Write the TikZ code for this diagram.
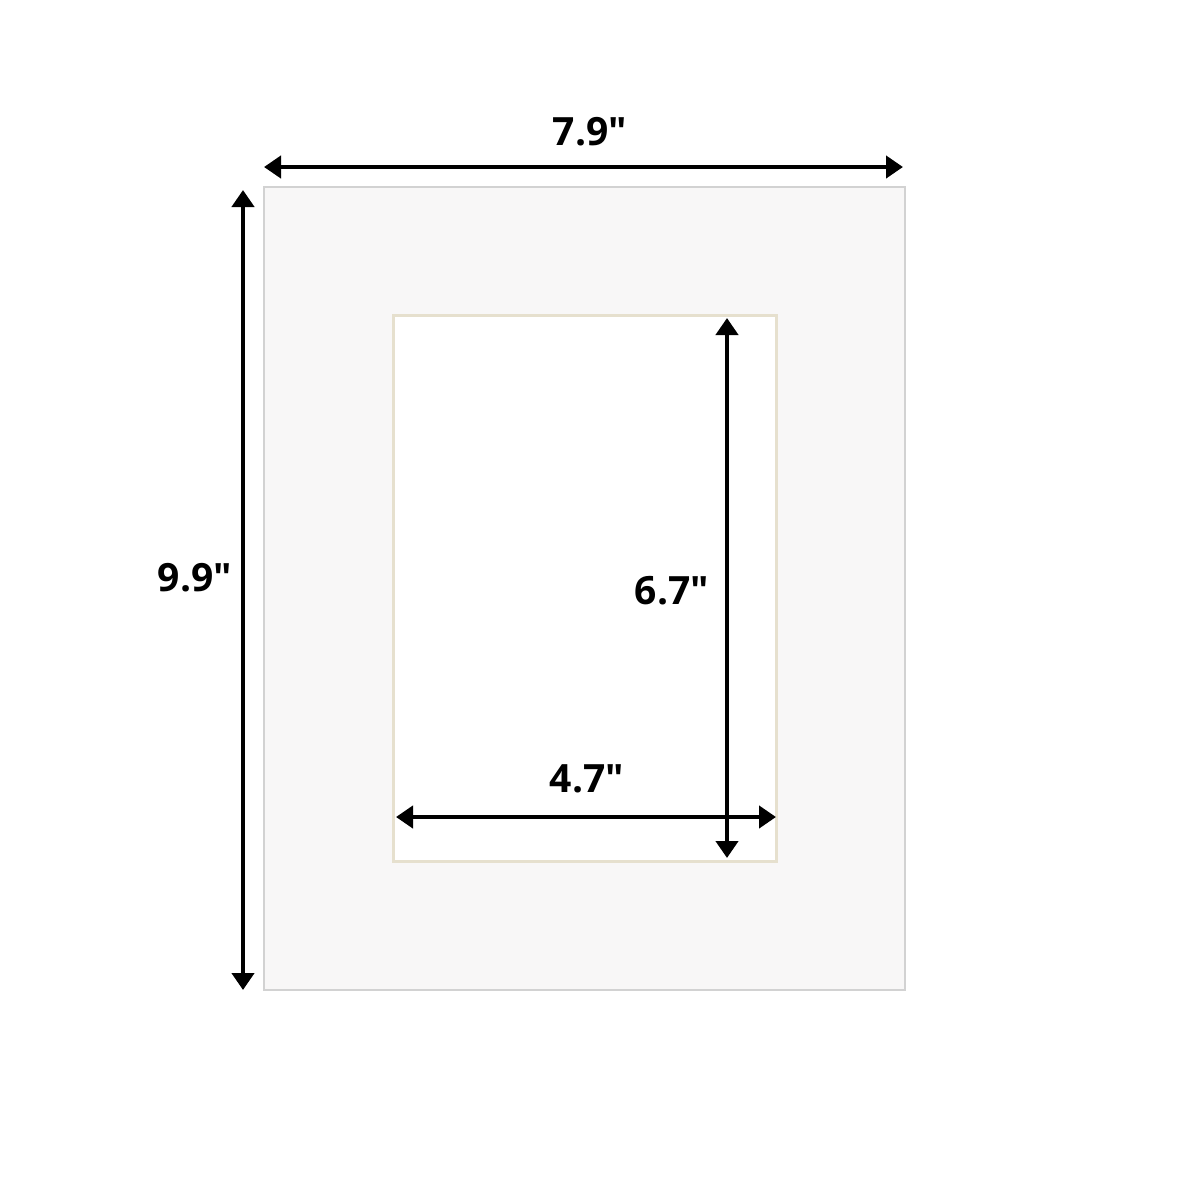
\documentclass[tikz,border=0pt]{standalone}
\usepackage{fontspec}
\setmainfont{Open Sans}[Ligatures=TeXOff]
\usetikzlibrary{arrows.meta}
\definecolor{matfill}{HTML}{F8F7F7}
\definecolor{matedge}{HTML}{D2D2D2}
\definecolor{bevel}{HTML}{E6E0CE}
\tikzset{
  dim/.style={line width=4.2pt, {Triangle[length=17pt,width=22pt]}-{Triangle[length=17pt,width=22pt]}},
  lbl/.style={font=\fontsize{39}{41}\selectfont\bfseries, inner sep=0pt, anchor=center}
}
\begin{document}
\begin{tikzpicture}[x=1pt,y=-1pt]
\useasboundingbox[fill=white] (0,0) rectangle (1200,1200);
% mat
\draw[matedge, fill=matfill, line width=1.3pt] (264,187) rectangle (905,990);
% window
\draw[bevel, fill=white, line width=3pt] (393,315) rectangle (776,861);
% coordinates for dimension lines
\coordinate (tL) at (264,167);
\coordinate (tR) at (903,167);
\coordinate (lT) at (243,190);
\coordinate (lB) at (243,990);
\coordinate (iT) at (727,318);
\coordinate (iB) at (727,858);
\coordinate (hL) at (396,817);
\coordinate (hR) at (776,817);
\draw[dim] (tL) -- (tR);
\draw[dim] (lT) -- (lB);
\draw[dim] (iT) -- (iB);
\draw[dim] (hL) -- (hR);
\node[lbl] (w) at (590,132) {7.9"};
\node[lbl] (h) at (195,578) {9.9"};
\node[lbl] (ih) at (672,591) {6.7"};
\node[lbl] (iw) at (587,779) {4.7"};
\end{tikzpicture}
\end{document}
